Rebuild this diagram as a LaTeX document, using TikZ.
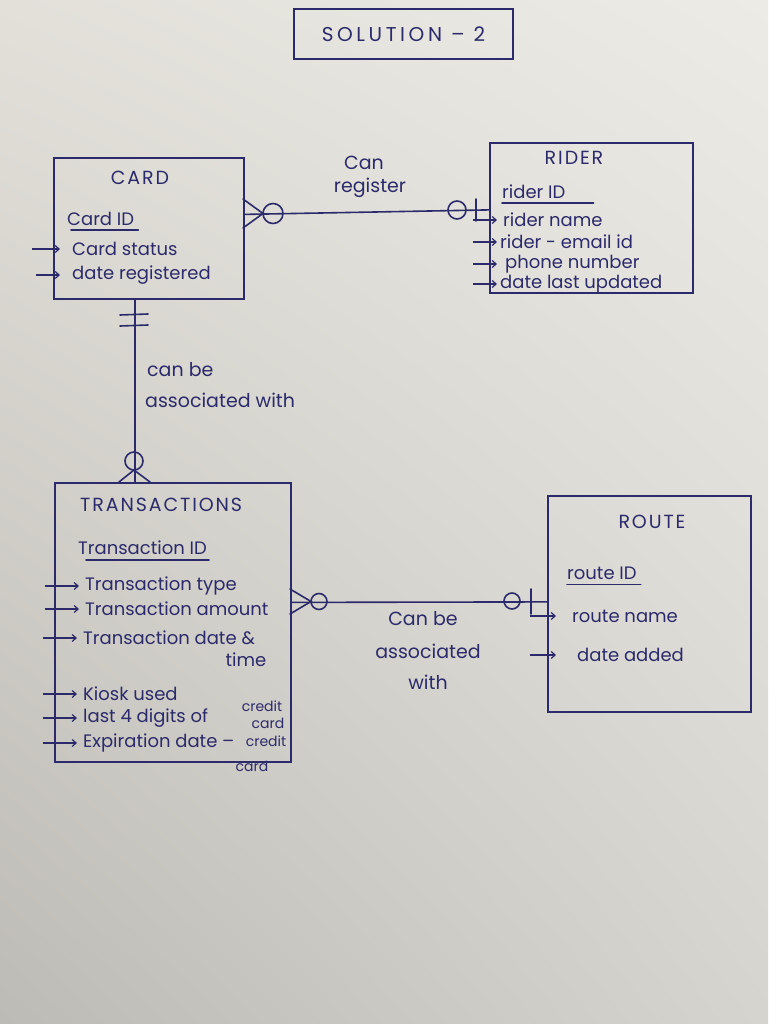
\documentclass[tikz,border=0pt]{standalone}
\usepackage{fontspec}
\setmainfont{Poppins}
\newfontfamily\headfont[LetterSpace=10]{Poppins}
\newfontfamily\titlefont[LetterSpace=18]{Poppins}
\usetikzlibrary{arrows.meta,calc,shadings}
\definecolor{ink}{HTML}{2C2A6A}
\definecolor{pTL}{HTML}{E2E0D9}
\definecolor{pTR}{HTML}{ECEBE6}
\definecolor{pBL}{HTML}{BDBBB5}
\definecolor{pBR}{HTML}{D6D4CE}
\begin{document}
\begin{tikzpicture}[x=1pt,y=-1pt,
  line/.style={draw=ink, line width=1.6pt, line cap=round},
  entity/.style={draw=ink, line width=1.8pt, anchor=north west, inner sep=0pt},
  head/.style={text=ink, font=\headfont\fontsize{19}{22}\selectfont, inner sep=0pt},
  attr/.style={text=ink, font=\fontsize{18}{20}\selectfont, anchor=west, inner sep=0pt},
  small/.style={text=ink, font=\fontsize{14}{16}\selectfont, inner sep=0pt},
  lbl/.style={text=ink, font=\fontsize{19}{21}\selectfont, inner sep=0pt},
  attrarrow/.style={draw=ink, line width=1.2pt, -{Straight Barb[length=4pt,width=7pt]}},
]
\useasboundingbox (0,0) rectangle (768,1024);
\shade[upper left=pTL, upper right=pTR, lower left=pBL, lower right=pBR] (0,0) rectangle (768,1024);

% title
\node[entity, minimum width=219pt, minimum height=50pt, text=ink, font=\titlefont\fontsize{20}{22}\selectfont] (title) at (293,8) {SOLUTION – 2};

% entities
\node[entity, minimum width=190pt, minimum height=141pt] (card) at (53,157) {};
\node[entity, minimum width=203pt, minimum height=150pt] (rider) at (489,142) {};
\node[entity, minimum width=236pt, minimum height=279pt] (trans) at (54,482) {};
\node[entity, minimum width=203pt, minimum height=216pt] (route) at (547,495) {};

% CARD
\node[head] (cardh) at (140,178) {CARD};
\node[attr] (cardid) at (67,219) {Card ID};
\node[attr] (cardst) at (72,249) {Card status};
\node[attr] (cardreg) at (72,275) {date registered};
\draw[line] ([xshift=4pt,yshift=-4pt]cardid.south west) -- ([xshift=4pt,yshift=-4pt]cardid.south east);
\draw[attrarrow] ([xshift=-40pt]cardst.west) -- ([xshift=-12pt]cardst.west);
\draw[attrarrow] ([xshift=-36pt]cardreg.west) -- ([xshift=-12pt]cardreg.west);

% RIDER
\node[head] (riderh) at (574,158) {RIDER};
\node[attr] (riderid) at (502,192) {rider ID};
\node[attr] (ridername) at (503,220) {rider name};
\node[attr] (rideremail) at (500,242) {rider - email id};
\node[attr] (riderphone) at (505,264) {phone number};
\node[attr] (riderdate) at (500,284) {date last updated};
\draw[line] ([yshift=-4pt]riderid.south west) -- ([xshift=28pt,yshift=-4pt]riderid.south east);
\draw[attrarrow] ([xshift=-30pt]ridername.west) -- ([xshift=-6pt]ridername.west);
\draw[attrarrow] ([xshift=-27pt]rideremail.west) -- ([xshift=-3pt]rideremail.west);
\draw[attrarrow] ([xshift=-32pt]riderphone.west) -- ([xshift=-8pt]riderphone.west);
\draw[attrarrow] ([xshift=-27pt]riderdate.west) -- ([xshift=-3pt]riderdate.west);

% TRANSACTIONS
\node[head, anchor=west] (transh) at (80,505) {TRANSACTIONS};
\node[attr] (tid) at (78,548) {Transaction ID};
\node[attr] (ttype) at (85,586) {Transaction type};
\node[attr] (tamt) at (85,609) {Transaction amount};
\node[attr] (tdate) at (83,638) {Transaction date \&};
\node[attr, anchor=center] (ttime) at (246,660) {time};
\node[attr] (tkiosk) at (83,694) {Kiosk used};
\node[attr] (tlast) at (83,718) {last 4 digits of};
\node[small] (tcred1) at (262,706) {credit};
\node[small] (tcard1) at (268,723) {card};
\node[attr] (texp) at (83,743) {Expiration date –};
\node[small] (tcred2) at (266,741) {credit};
\node[small] (tcard2) at (252,766) {card};
\draw[line] ([xshift=8pt,yshift=-5pt]tid.south west) -- ([xshift=2pt,yshift=-5pt]tid.south east);
\foreach \n in {ttype,tamt,tdate,tkiosk,tlast,texp}
  \draw[attrarrow] ([xshift=-40pt]\n.west) -- ([xshift=-6pt]\n.west);

% ROUTE
\node[head] (routeh) at (652,522) {ROUTE};
\node[attr] (routeid) at (567,573) {route ID};
\node[attr] (routename) at (572,616) {route name};
\node[attr] (routedate) at (577,655) {date added};
\draw[line] ([yshift=-5pt]routeid.south west) -- ([xshift=4pt,yshift=-5pt]routeid.south east);
\draw[attrarrow] ([xshift=-42pt]routename.west) -- ([xshift=-16pt]routename.west);
\draw[attrarrow] ([xshift=-47pt]routedate.west) -- ([xshift=-21pt]routedate.west);

% CARD -- RIDER
\draw[line] ([yshift=14pt]card.east) -- ([yshift=8pt]rider.west);
\draw[line] (243,199) -- (263,213.5) -- (243,228);
\draw[line] (273,213.5) circle[radius=10];
\draw[line] (457,210) circle[radius=9];
\draw[line] (476,199) -- (476,221);
\node[lbl] (lreg1) at (364,163) {Can};
\node[lbl] (lreg2) at (370,188) {register};

% CARD -- TRANSACTIONS
\draw[line] ([xshift=-14pt]card.south) -- ([xshift=-38pt]trans.north);
\draw[line] (120,315) -- (148,314);
\draw[line] (120,326) -- (148,325);
\draw[line] (134,461) circle[radius=9];
\draw[line] (119,482) -- (134,470) -- (150,482);
\node[lbl, anchor=west] (lcab1) at (147,370) {can be};
\node[lbl, anchor=west] (lcab2) at (145,400) {associated with};

% TRANSACTIONS -- ROUTE
\draw[line] ([yshift=20pt]trans.east) -- ([yshift=2pt]route.west);
\draw[line] (290,589) -- (311,601.5) -- (290,614);
\draw[line] (319,601.5) circle[radius=8];
\draw[line] (512,601) circle[radius=8];
\draw[line] (531,589) -- (531,614);
\node[lbl] (ltr1) at (423,619) {Can be};
\node[lbl] (ltr2) at (428,651) {associated};
\node[lbl] (ltr3) at (428,682) {with};
\end{tikzpicture}
\end{document}
